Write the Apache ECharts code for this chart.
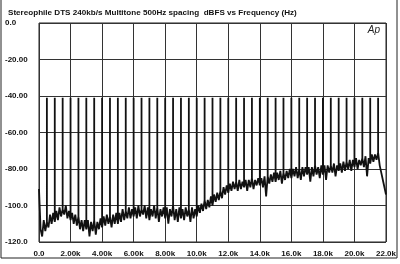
<!DOCTYPE html>
<html><head><meta charset="utf-8">
<script src="https://cdn.jsdelivr.net/npm/echarts@6/dist/echarts.min.js"></script>
<style>html,body{margin:0;padding:0;background:#fff}#c{width:400px;height:264px}</style>
</head><body><div id="c"></div>
<script>
// Title and tick labels
const titleText = "Stereophile DTS 240kb/s Multitone 500Hz spacing  dBFS vs Frequency (Hz)";
const xTickValues = [0,2,4,6,8,10,12,14,16,18,20,22];
const xTickLabels = ["0.0","2.00k","4.00k","6.00k","8.00k","10.0k","12.0k","14.0k","16.0k","18.0k","20.0k","22.0k"];
const yTickValues = [0,-20,-40,-60,-80,-100,-120];
const yTickLabels = ["0.0","-20.00","-40.00","-60.00","-80.00","-100.0","-120.0"];

// Multitone frequencies (kHz) and their level (dBFS)
const toneFreqs = [0.5,1,1.5,2,2.5,3,3.5,4,4.5,5,5.5,6,6.5,7,7.5,8,8.5,9,9.5,10,10.5,11,11.5,12,12.5,13,13.5,14,14.5,15,15.5,16,16.5,17,17.5,18,18.5,19,19.5,20,20.5,21,21.5];
const toneLevel = -41;

// Noise floor, 0 to 22 kHz every 0.1 kHz (dBFS)
const floorFreqStep = 0.1;
const floorLevels = [
 -91,-113,-117,-108,-114,-109,-112,-105,-110,-104,
 -109,-103,-108,-101,-106,-102,-105,-100,-107,-103,
 -108,-104,-110,-105,-111,-106,-113,-108,-114,-108,
 -113,-108,-117,-109,-114,-108,-116,-109,-113,-107,
 -112,-106,-111,-105,-110,-106,-112,-105,-110,-104,
 -110,-104,-109,-102,-108,-103,-107,-101,-107,-102,
 -106,-101,-107,-100,-106,-102,-105,-100,-107,-101,
 -108,-102,-106,-100,-107,-101,-109,-102,-106,-101,
 -107,-101,-110,-102,-106,-100,-108,-102,-109,-101,
 -107,-102,-108,-101,-106,-102,-109,-101,-107,-102,
 -106,-100,-104,-99,-103,-97,-102,-97,-101,-95,
 -100,-94,-98,-93,-97,-92,-96,-90,-94,-89,
 -93,-88,-92,-87,-91,-87,-92,-86,-91,-87,
 -90,-86,-92,-86,-90,-85,-91,-86,-89,-85,
 -89,-85,-90,-84,-95,-84,-88,-83,-87,-82,
 -87,-82,-86,-81,-88,-82,-86,-81,-85,-80,
 -85,-80,-84,-79,-85,-80,-86,-79,-84,-79,
 -83,-79,-87,-79,-84,-78,-83,-79,-85,-78,
 -83,-78,-86,-78,-82,-78,-82,-77,-84,-78,
 -81,-77,-82,-76,-81,-76,-80,-75,-81,-75,
 -79,-74,-80,-75,-78,-74,-79,-73,-84,-74,
 -77,-72,-76,-72,-75,-71,-78,-82,-86,-90,
 -94
];

// Build trace: floor with vertical spikes at tone frequencies
const trace = [];
floorLevels.forEach((v, i) => {
  const f = Math.round(i * floorFreqStep * 10) / 10;
  trace.push([f, v]);
  if (toneFreqs.indexOf(f) >= 0) {
    trace.push([f, toneLevel]);
    trace.push([f, v]);
  }
});

const font = '"Liberation Sans", Arial, sans-serif';
const chart = echarts.init(document.getElementById('c'), null, {renderer: 'canvas'});
chart.setOption({
  animation: false,
  backgroundColor: '#ffffff',
  title: {
    text: titleText, left: 3, top: 4,
    textStyle: {fontFamily: font, fontSize: 8.1, fontWeight: 'bold', color: '#111'}
  },
  grid: {left: 39, right: 14, top: 23, bottom: 22, show: true, borderColor: '#222', borderWidth: 1, backgroundColor: 'transparent'},
  xAxis: {
    type: 'value', min: 0, max: 22, interval: 2,
    axisLine: {show: false}, axisTick: {show: false},
    splitLine: {show: true, lineStyle: {color: '#333', width: 1}},
    axisLabel: {
      margin: 8, fontFamily: font, fontSize: 8, fontWeight: 'bold', color: '#111',
      formatter: v => { const k = xTickValues.indexOf(Math.round(v)); return k >= 0 ? xTickLabels[k] : ''; }
    }
  },
  yAxis: {
    type: 'value', min: -120, max: 0, interval: 20,
    axisLine: {show: false}, axisTick: {show: false},
    splitLine: {show: true, lineStyle: {color: '#333', width: 1}},
    axisLabel: {
      margin: 34, align: 'left', fontFamily: font, fontSize: 8, fontWeight: 'bold', color: '#111',
      formatter: v => { const k = yTickValues.indexOf(Math.round(v)); return k >= 0 ? yTickLabels[k] : ''; }
    }
  },
  series: [{
    type: 'line', data: trace, showSymbol: false, symbol: 'none',
    lineStyle: {color: '#111', width: 1.8}, z: 5
  }],
  graphic: [
    {type: 'text', right: 20, top: 25, style: {text: 'Ap', font: 'italic 10px ' + font, fill: '#222'}},
    {type: 'polyline', shape: {points: [[1,0],[1,258],[397,258],[397,0]]}, style: {stroke: '#222', lineWidth: 1, fill: null}}
  ]
});
</script></body></html>
